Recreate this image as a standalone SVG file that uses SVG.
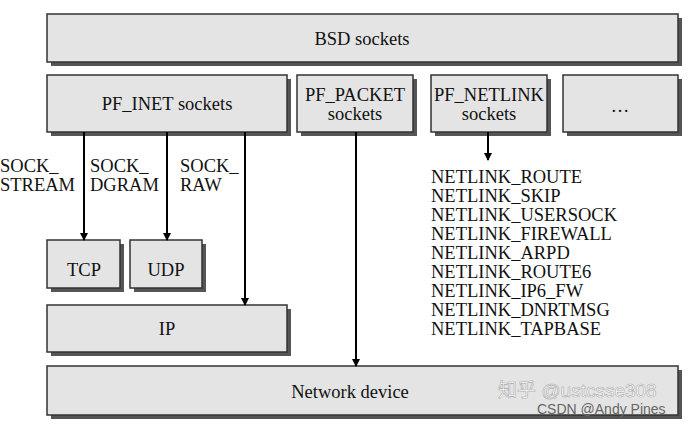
<svg xmlns="http://www.w3.org/2000/svg" width="690" height="424" viewBox="0 0 690 424">
<style>
.b{fill:#e4e4e4;stroke:#333;stroke-width:1.5}
.s{fill:#555}
text{font-family:"Times New Roman","Liberation Serif","DejaVu Serif",serif;font-size:18.5px;fill:#111}
.c{text-anchor:middle}
.l{stroke:#000;stroke-width:2;fill:none}
</style>
<defs><marker id="a" markerWidth="8" markerHeight="8" refX="7" refY="4" orient="auto" markerUnits="userSpaceOnUse"><path d="M0,0L8,4L0,8z" fill="#000"/></marker></defs>
<rect width="690" height="424" fill="#fff"/>
<g id="bsd"><rect class="s" x="51" y="18" width="631" height="48"/><rect class="b" x="47" y="14" width="631" height="48"/><text class="c" x="362" y="45">BSD sockets</text></g>
<g id="inet"><rect class="s" x="51" y="79" width="240" height="57"/><rect class="b" x="47" y="75" width="240" height="57"/><text class="c" x="167" y="110">PF_INET sockets</text></g>
<g id="packet"><rect class="s" x="301" y="79" width="116" height="57"/><rect class="b" x="297" y="75" width="116" height="57"/><text class="c" x="355" y="101">PF_PACKET</text><text class="c" x="355" y="120">sockets</text></g>
<g id="netlink"><rect class="s" x="435" y="79" width="116" height="57"/><rect class="b" x="431" y="75" width="116" height="57"/><text class="c" x="489" y="101">PF_NETLINK</text><text class="c" x="489" y="120">sockets</text></g>
<g id="more"><rect class="s" x="567" y="79" width="115" height="57"/><rect class="b" x="563" y="75" width="115" height="57"/><text class="c" x="620" y="112" font-size="20">…</text></g>
<g id="tcp"><rect class="s" x="51" y="244" width="73" height="48"/><rect class="b" x="47" y="240" width="73" height="48"/><text class="c" x="84" y="276">TCP</text></g>
<g id="udp"><rect class="s" x="134" y="244" width="72" height="48"/><rect class="b" x="130" y="240" width="72" height="48"/><text class="c" x="166" y="276">UDP</text></g>
<g id="ip"><rect class="s" x="51" y="309" width="240" height="47"/><rect class="b" x="47" y="305" width="240" height="47"/><text class="c" x="167" y="335">IP</text></g>
<g id="netdev"><rect class="s" x="51" y="370" width="631" height="49"/><rect class="b" x="47" y="366" width="631" height="49"/><text class="c" x="350" y="398">Network device</text></g>
<g id="connectors">
<path class="l" d="M84,132V240" marker-end="url(#a)"/>
<path class="l" d="M167,132V240" marker-end="url(#a)"/>
<path class="l" d="M245,132V305" marker-end="url(#a)"/>
<path class="l" d="M356,132V366" marker-end="url(#a)"/>
<path class="l" d="M488,132V160" marker-end="url(#a)"/>
</g>
<g id="labels">
<text x="0" y="172">SOCK_</text><text x="0" y="191">STREAM</text>
<text x="90" y="172">SOCK_</text><text x="90" y="191">DGRAM</text>
<text x="180" y="172">SOCK_</text><text x="180" y="191">RAW</text>
<text x="431" y="183">NETLINK_ROUTE</text>
<text x="431" y="202">NETLINK_SKIP</text>
<text x="431" y="221">NETLINK_USERSOCK</text>
<text x="431" y="240">NETLINK_FIREWALL</text>
<text x="431" y="259">NETLINK_ARPD</text>
<text x="431" y="278">NETLINK_ROUTE6</text>
<text x="431" y="297">NETLINK_IP6_FW</text>
<text x="431" y="316">NETLINK_DNRTMSG</text>
<text x="431" y="335">NETLINK_TAPBASE</text>
</g>
<text x="498" y="397" style="font-family:'Liberation Sans','Noto Sans CJK SC',sans-serif;font-size:19px;fill:#fff;stroke:#aaa;stroke-width:0.6">知乎 @ustcsse308</text>
<text x="537" y="414" style="font-family:'Liberation Sans',sans-serif;font-size:14px;fill:#666">CSDN @Andy Pines</text>
</svg>
